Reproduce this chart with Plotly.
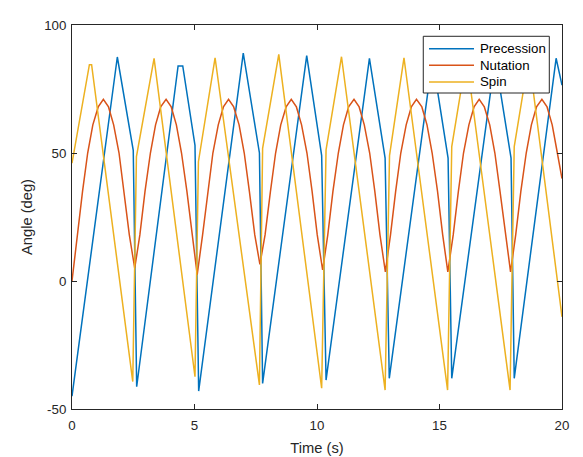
import plotly.graph_objects as go

# ---- data ----
prec_t = [0.00, 1.85, 2.50, 2.64, 4.33, 4.52, 5.02, 5.17, 6.99, 7.65, 7.78, 9.58, 10.19, 10.37,
          12.14, 12.78, 12.95, 14.71, 15.35, 15.50, 17.27, 17.92, 18.05, 19.76, 20.00]
prec_v = [-45, 87.5, 51, -41.3, 84, 84, 53, -43, 89, 50, -40, 88, 49, -38.7,
          87, 48, -38, 87, 48, -38, 87, 48, -38, 87, 76.5]

nut_t = [0.00, 0.21, 0.43, 0.64, 0.85, 1.07, 1.28, 1.49, 1.70, 1.92, 2.13, 2.34,
         2.56, 2.77, 2.98, 3.20, 3.41, 3.62, 3.84, 4.05, 4.26, 4.47, 4.69, 4.90,
         5.11, 5.33, 5.54, 5.75, 5.97, 6.18, 6.39, 6.60, 6.82, 7.03, 7.24, 7.46,
         7.67, 7.88, 8.10, 8.31, 8.52, 8.74, 8.95, 9.16, 9.37, 9.59, 9.80, 10.01,
         10.23, 10.44, 10.65, 10.87, 11.08, 11.29, 11.51, 11.72, 11.93, 12.15, 12.36, 12.57,
         12.79, 13.00, 13.21, 13.42, 13.64, 13.85, 14.06, 14.28, 14.49, 14.70, 14.92, 15.13,
         15.34, 15.56, 15.77, 15.98, 16.20, 16.41, 16.62, 16.83, 17.05, 17.26, 17.47, 17.69,
         17.90, 18.11, 18.32, 18.54, 18.75, 18.96, 19.18, 19.39, 19.60, 19.81, 20.00]
nut_v = [0, 18, 35, 50, 61, 68, 71, 68, 61, 50, 35, 18,
         5, 18, 35, 50, 61, 68, 71, 68, 61, 50, 35, 18,
         2.5, 18, 35, 50, 61, 68, 71, 68, 61, 50, 35, 18,
         6.5, 18, 35, 50, 61, 68, 71, 68, 61, 50, 35, 18,
         4.3, 18, 35, 50, 61, 68, 71, 68, 61, 50, 35, 18,
         3.6, 18, 35, 50, 61, 68, 71, 68, 61, 50, 35, 18,
         3.6, 18, 35, 50, 61, 68, 71, 68, 61, 50, 35, 18,
         3.6, 18, 35, 50, 61, 68, 71, 68, 61, 50, 40]

spin_t = [0.00, 0.71, 0.80, 2.48, 2.63, 3.35, 5.02, 5.16, 5.84, 7.65, 7.78, 8.44, 10.19, 10.37,
          11.00, 12.78, 12.96, 13.55, 15.33, 15.50, 16.10, 17.88, 18.05, 18.65, 20.00]
spin_v = [46, 84.5, 84.5, -39.3, 48.6, 87, -37.4, 46.6, 87.2, -40.6, 51.8, 88.5, -41.9, 51.2,
          87.6, -42.6, 49, 87.2, -42.6, 52.5, 87.5, -42.6, 52.5, 87.5, -14]

series_names = ["Precession", "Nutation", "Spin"]
series_colors = ["#0072BD", "#D95319", "#EDB120"]

x_ticks = [0, 5, 10, 15, 20]
x_labels = ["0", "5", "10", "15", "20"]
y_ticks = [-50, 0, 50, 100]
y_labels = ["-50", "0", "50", "100"]

AX = "#262626"
FONT = "Liberation Sans, Arial, sans-serif"

fig = go.Figure()
for name, color, xs, ys in zip(series_names, series_colors,
                               [prec_t, nut_t, spin_t], [prec_v, nut_v, spin_v]):
    fig.add_trace(go.Scatter(x=xs, y=ys, mode="lines", name=name,
                             line=dict(color=color, width=1.5)))

axis_common = dict(showgrid=False, zeroline=False, showline=True, linecolor=AX, linewidth=1,
                   mirror="ticks", ticks="inside", ticklen=5, tickwidth=1, tickcolor=AX,
                   automargin=False,
                   tickfont=dict(family=FONT, size=13.3, color=AX))

fig.update_xaxes(range=[0, 20], tickvals=x_ticks, ticktext=x_labels, ticklabelstandoff=4,
                 title=dict(text="Time (s)", font=dict(family=FONT, size=14.7, color=AX), standoff=10),
                 **axis_common)
fig.update_yaxes(range=[-50, 100], tickvals=y_ticks, ticktext=y_labels, ticklabelstandoff=2,
                 title=dict(text="Angle (deg)", font=dict(family=FONT, size=14.7, color=AX), standoff=8),
                 **axis_common)

# legend box drawn in paper coordinates (MATLAB-style compact legend)
box = dict(x0=0.7169, x1=0.9741, y0=0.8229, y1=0.9706)
row_y = [0.9383, 0.8951, 0.8516]
line_x0, line_x1, text_x = 0.7286, 0.8204, 0.8292

shapes = [dict(type="rect", xref="paper", yref="paper", layer="above",
               fillcolor="white", line=dict(color=AX, width=1), **box)]
annotations = []
for name, color, ry in zip(series_names, series_colors, row_y):
    shapes.append(dict(type="line", xref="paper", yref="paper", layer="above",
                       x0=line_x0, x1=line_x1, y0=ry, y1=ry,
                       line=dict(color=color, width=1.5)))
    annotations.append(dict(text=name, xref="paper", yref="paper", x=text_x, y=ry,
                            xanchor="left", yanchor="middle", showarrow=False,
                            font=dict(family=FONT, size=13.3, color="#000000")))

fig.update_layout(
    width=583, height=457,
    margin=dict(l=72, r=21, t=25, b=48, autoexpand=False),
    plot_bgcolor="white", paper_bgcolor="white",
    font=dict(family=FONT, size=13.3, color=AX),
    showlegend=False,
    shapes=shapes,
    annotations=annotations,
)

fig.write_html("out.html")
